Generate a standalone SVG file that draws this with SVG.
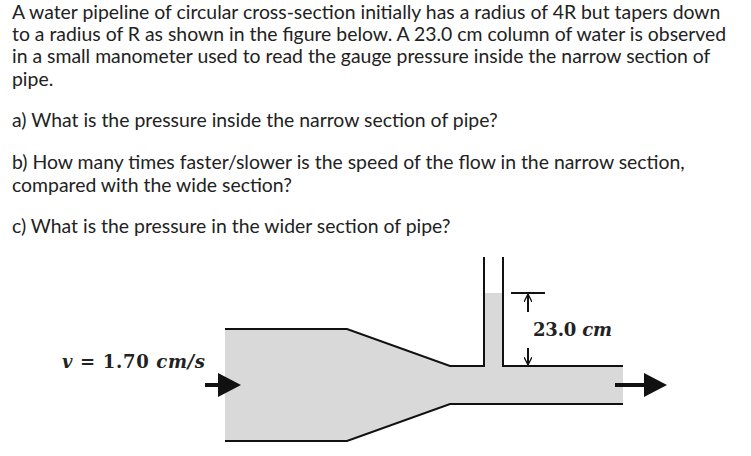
<svg xmlns="http://www.w3.org/2000/svg" width="751" height="456" viewBox="0 0 751 456">
<style>
.t{font-family:Lato,"Open Sans",sans-serif;font-size:19.4px;fill:#222}
.m{font-family:"DejaVu Serif","Liberation Serif",serif;font-size:18px;font-weight:bold;fill:#222}
.ln{stroke:#111;stroke-width:2;fill:none}
</style>
<defs><marker id="a" markerWidth="8" markerHeight="8" refX="7" refY="4" orient="auto" markerUnits="userSpaceOnUse"><path d="M0,0L8,4L0,8" fill="none" stroke="#111" stroke-width="1.3"/></marker></defs>
<rect width="751" height="456" fill="#fff"/>
<g id="text">
<text class="t" x="12" y="19">A water pipeline of circular cross-section initially has a radius of 4R but tapers down</text>
<text class="t" x="12" y="41">to a radius of R as shown in the figure below. A 23.0 cm column of water is observed</text>
<text class="t" x="12" y="63">in a small manometer used to read the gauge pressure inside the narrow section of</text>
<text class="t" x="12" y="86">pipe.</text>
<text class="t" x="12" y="127">a) What is the pressure inside the narrow section of pipe?</text>
<text class="t" x="12" y="169">b) How many times faster/slower is the speed of the flow in the narrow section,</text>
<text class="t" x="12" y="192">compared with the wide section?</text>
<text class="t" x="12" y="233">c) What is the pressure in the wider section of pipe?</text>
</g>
<g id="pipe">
<path d="M225,329H347L450,366H484V293H503V366H623V404H450L347,441H225Z" fill="#d9d9d9"/>
<path class="ln" d="M225,329H347L450,366H484V257M503,257V366H623M623,404H450L347,441H225"/>
</g>
<g id="dimension">
<path class="ln" stroke-width="1.5" d="M511,293H545"/>
<path class="ln" stroke-width="1.5" d="M528,312V295" marker-end="url(#a)"/>
<path class="ln" stroke-width="1.5" d="M528,348V364" marker-end="url(#a)"/>
<text class="m" x="533" y="336" textLength="79">23.0 <tspan font-style="italic">cm</tspan></text>
</g>
<g id="connectors">
<path d="M205,385H220" stroke="#111" stroke-width="4"/>
<path d="M218,373L241,385L218,397Z" fill="#111"/>
<path d="M615,385H646" stroke="#111" stroke-width="4"/>
<path d="M644,373L667,385L644,397Z" fill="#111"/>
</g>
<text class="m" x="62" y="368" font-style="italic" textLength="143">v <tspan font-style="normal">= 1.70</tspan> cm/s</text>
</svg>
